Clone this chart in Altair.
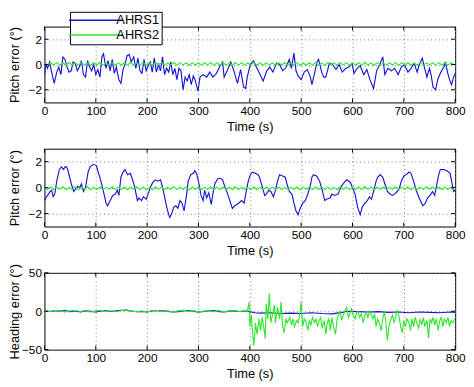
import altair as alt
import pandas as pd

X_TICKS = [0, 100, 200, 300, 400, 500, 600, 700, 800]
PITCH_TICKS = [-2, 0, 2]
HEAD_TICKS = [-50, 0, 50]
SERIES = ["AHRS1", "AHRS2"]
COLORS = ["#1515d5", "#2ee82e"]

# ---- panel 1 : pitch error ----
P1_T = [0, 3, 6, 10, 14, 19, 24, 28, 32, 36,
        40, 44, 48, 52, 56, 60, 64, 68, 72, 76,
        80, 84, 88, 92, 96, 100, 104, 108, 112, 115,
        120, 124, 128, 132, 136, 140, 145, 149, 153, 157,
        161, 165, 169, 174, 178, 182, 186, 190, 194, 198,
        202, 206, 210, 214, 218, 222, 226, 230, 234, 238,
        242, 246, 250, 254, 258, 262, 266, 270, 274, 278,
        282, 286, 290, 294, 299, 303, 309, 316, 322, 328,
        335, 341, 347, 350, 357, 363, 369, 376, 382, 388,
        392, 395, 401, 407, 414, 420, 426, 433, 439, 445,
        452, 458, 464, 471, 477, 481, 486, 490, 494, 500,
        506, 512, 518, 521, 526, 531, 534, 540, 544, 548,
        555, 561, 568, 574, 580, 587, 593, 599, 603, 609,
        615, 622, 628, 634, 641, 647, 654, 659, 663, 669,
        676, 682, 689, 695, 701, 708, 714, 720, 726, 730,
        736, 740, 745, 750, 753, 757, 762, 766, 771, 775,
        778, 781, 785, 789, 793, 797, 800]
P1_AHRS1 = [-0.8, 0.0, -0.3, 0.2, -0.6, -1.5, -0.6, -0.2, -0.8, 0.6,
            0.4, -0.2, -0.6, -0.5, 0.2, 0.1, -0.5, -0.2, 0.3, -0.8,
            -1.0, 0.3, -0.2, -0.5, 0.0, -0.8, -0.4, -1.0, 0.6, 0.85,
            -0.3, 0.3, -0.5, 0.4, -0.7, -0.2, -1.2, -1.5, -0.4, 0.0,
            0.7, 0.8, 0.2, 0.6, -0.3, 0.5, -0.5, -0.7, 0.4, -0.5,
            -0.1, 0.2, -0.6, 0.5, -0.6, 0.0, -0.5, 0.6, -0.8, -0.3,
            -0.6, 0.2, -0.8, -0.3, -1.2, -0.3, -0.5, -2.0, -1.0, -1.3,
            -0.8, -1.6, -0.9, -1.3, -2.1, -1.0, -0.8, -1.0, -0.6, -1.0,
            -0.7, -0.2, 0.2, -1.0, -0.4, 0.2, -0.5, -1.5, -0.4, -1.8,
            -1.9, -1.0, 0.0, 0.3, -0.3, -0.8, -1.3, -0.5, -0.2, -0.6,
            0.1, 0.0, -0.5, -0.2, 0.4, -0.3, 0.9, -0.5, -0.9, -1.2,
            -0.6, -0.4, -1.0, -1.6, -0.7, 0.2, 0.4, -0.6, -1.0, -1.0,
            0.1, 0.0, -0.4, 0.0, -0.6, -0.3, -0.2, 0.1, -0.7, -0.3,
            -0.1, -0.8, -0.4, -1.2, -1.9, -0.5, 0.1, 0.6, -0.8, -0.3,
            -0.5, -0.3, -0.8, -0.2, 0.0, -0.6, -0.3, 0.1, -0.6, 0.0,
            0.5, -0.2, -1.0, -0.3, -0.8, -1.8, -2.0, -1.2, -0.7, -0.4,
            -0.2, 0.2, -0.6, -1.2, -1.6, -1.0, -0.7]

G_T = list(range(0, 801, 6))
P1_AHRS2 = [0.10, -0.04, 0.14, -0.05, 0.15, -0.03, 0.12, -0.06, 0.16, -0.04,
            0.13, -0.05, 0.15, -0.02, 0.11, -0.06, 0.14, -0.04, 0.16, -0.05,
            0.12, -0.03, 0.15, -0.06, 0.13, -0.04, 0.14, -0.05, 0.16, -0.03,
            0.11, -0.05, 0.15, -0.04, 0.13, -0.06, 0.14, -0.02, 0.15, -0.05,
            0.12, -0.04, 0.16, -0.05, 0.13, -0.03, 0.14, -0.06, 0.15, -0.04,
            0.12, -0.05, 0.14, -0.03, 0.16, -0.05, 0.13, -0.04, 0.15, -0.06,
            0.11, -0.04, 0.14, -0.05, 0.15, -0.03, 0.12, -0.05, 0.16, -0.04,
            0.13, -0.06, 0.15, -0.03, 0.12, -0.05, 0.14, -0.04, 0.16, -0.05,
            0.13, -0.03, 0.15, -0.06, 0.12, -0.04, 0.14, -0.05, 0.15, -0.03,
            0.11, -0.05, 0.16, -0.04, 0.13, -0.06, 0.14, -0.03, 0.15, -0.05,
            0.12, -0.04, 0.14, -0.05, 0.16, -0.03, 0.13, -0.06, 0.15, -0.04,
            0.12, -0.05, 0.14, -0.03, 0.15, -0.05, 0.13, -0.04, 0.16, -0.06,
            0.12, -0.04, 0.15, -0.05, 0.13, -0.03, 0.14, -0.05, 0.15, -0.04,
            0.12, -0.05, 0.14, -0.04]

# ---- panel 2 : pitch error ----
P2_T = [0, 4, 8, 11, 14, 17, 20, 24, 29, 33,
        37, 40, 43, 46, 49, 53, 57, 61, 65, 69,
        72, 76, 80, 85, 89, 95, 101, 104, 110, 115,
        120, 123, 128, 133, 138, 142, 145, 149, 153, 157,
        162, 167, 171, 176, 181, 184, 189, 193, 198, 202,
        206, 211, 216, 221, 226, 229, 233, 237, 240, 244,
        248, 252, 256, 260, 264, 268, 272, 277, 280, 285,
        290, 293, 297, 301, 305, 309, 312, 316, 320, 325,
        328, 332, 338, 343, 347, 352, 357, 361, 366, 371,
        378, 384, 389, 392, 397, 401, 405, 411, 416, 419,
        424, 429, 432, 437, 441, 446, 450, 454, 458, 464,
        469, 473, 477, 482, 486, 490, 494, 498, 503, 508,
        513, 518, 521, 524, 530, 536, 541, 546, 549, 556,
        560, 565, 572, 578, 584, 589, 596, 600, 605, 610,
        615, 619, 624, 629, 633, 637, 641, 646, 649, 654,
        659, 663, 668, 673, 678, 682, 687, 691, 695, 700,
        705, 710, 714, 719, 724, 730, 737, 742, 746, 751,
        756, 760, 764, 768, 771, 778, 784, 790, 793, 797,
        800]
P2_AHRS1 = [-1.0, -0.7, -0.5, -0.3, -0.2, -0.7, -0.5, 0.5, 1.4, 1.6,
            1.4, 1.6, 1.6, 1.3, 0.8, 0.2, -0.3, -0.1, 0.1, 0.0,
            0.3, -0.3, 0.0, 1.2, 1.6, 1.8, 1.7, 1.3, 0.5, -0.3,
            -1.2, -1.4, -1.0, -0.6, -0.5, -0.2, -0.6, 0.8, 1.2, 1.4,
            1.0, 1.1, 0.7, 0.0, -1.0, -0.8, -1.0, -0.7, -0.9, -0.5,
            0.0, 0.4, 0.6, 0.5, 0.6, 0.2, -0.5, -1.3, -1.8, -2.3,
            -2.0, -1.5, -1.4, -1.6, -1.0, -1.2, -1.8, -0.5, 0.5, 1.0,
            1.1, 1.3, 1.0, 0.3, -0.6, -1.0, -0.2, -0.8, -0.4, -1.3,
            -0.5, 0.3, 0.7, 0.7, 0.6, 0.0, -0.5, -1.0, -1.6, -1.4,
            -1.2, -1.0, -1.2, -0.5, 0.5, 1.0, 1.2, 1.1, 1.0, 0.8,
            0.1, -0.6, -0.5, -0.2, -0.3, -0.7, -0.2, 0.5, 1.0, 0.9,
            0.8, 0.2, -0.3, -0.5, -1.2, -1.8, -2.1, -1.6, -1.2, -1.0,
            -0.5, 0.2, 0.8, 1.0, 0.9, 0.5, -0.2, -1.0, -0.9, -0.8,
            -0.5, -0.6, -0.5, 0.1, 0.4, 0.6, 0.4, 0.0, -0.5, -1.5,
            -2.1, -1.5, -1.2, -1.0, -0.7, -0.9, -0.3, 0.5, 0.8, 1.0,
            0.8, 0.3, -0.3, -0.5, -0.6, -0.5, -0.3, -0.1, 0.5, 0.9,
            1.0, 1.2, 1.1, 0.5, -0.2, -0.8, -1.4, -1.2, -0.8, -0.6,
            -0.3, -0.6, 0.2, 1.0, 1.4, 1.4, 1.3, 1.1, 0.5, -0.3,
            -0.2]
P2_AHRS2 = [0.03, -0.14, 0.05, -0.15, 0.04, -0.13, 0.06, -0.16, 0.02, -0.14,
            0.05, -0.15, 0.03, -0.12, 0.06, -0.16, 0.04, -0.14, 0.05, -0.15,
            0.02, -0.13, 0.06, -0.15, 0.04, -0.14, 0.05, -0.16, 0.03, -0.13,
            0.06, -0.15, 0.04, -0.14, 0.02, -0.16, 0.05, -0.12, 0.04, -0.15,
            0.03, -0.14, 0.06, -0.15, 0.04, -0.13, 0.05, -0.16, 0.03, -0.14,
            0.05, -0.15, 0.02, -0.13, 0.06, -0.15, 0.04, -0.14, 0.05, -0.16,
            0.03, -0.14, 0.06, -0.15, 0.04, -0.13, 0.02, -0.15, 0.05, -0.14,
            0.04, -0.16, 0.06, -0.13, 0.03, -0.15, 0.05, -0.14, 0.04, -0.15,
            0.02, -0.13, 0.05, -0.16, 0.04, -0.14, 0.06, -0.15, 0.03, -0.13,
            0.05, -0.15, 0.04, -0.14, 0.02, -0.16, 0.06, -0.13, 0.04, -0.15,
            0.03, -0.14, 0.05, -0.15, 0.06, -0.13, 0.04, -0.16, 0.03, -0.14,
            0.05, -0.15, 0.02, -0.13, 0.06, -0.15, 0.04, -0.14, 0.05, -0.16,
            0.03, -0.14, 0.04, -0.15, 0.06, -0.13, 0.05, -0.15, 0.03, -0.14,
            0.04, -0.15, 0.05, -0.14]

# ---- panel 3 : heading error ----
P3_T1 = [0, 10, 20, 30, 40, 50, 60, 70, 80, 90,
         100, 110, 120, 130, 140, 150, 160, 170, 180, 190,
         200, 210, 220, 230, 240, 250, 260, 270, 280, 290,
         300, 310, 320, 330, 340, 350, 360, 370, 380, 390,
         400, 410, 420, 440, 460, 480, 500, 520, 540, 560,
         580, 590, 610, 630, 650, 670, 690, 710, 730, 750,
         770, 790, 800]
P3_AHRS1 = [0.5, -0.3, 0.8, 0.2, 1.0, -0.5, 0.3, -0.8, 0.5, -0.2,
            -1.0, 0.3, 0.8, -0.4, 0.6, 1.2, 1.5, 0.2, -0.6, -0.3,
            -1.0, 0.4, 0.9, 0.5, -0.2, -0.8, -0.5, 0.3, 1.0, 0.2,
            -1.2, -0.3, 0.4, 0.9, -0.5, -0.8, 0.2, 0.5, -0.4, 0.1,
            -0.5, -2.0, -2.5, -2.0, -3.0, -2.5, -3.0, -2.0, -3.0, -3.5,
            -1.5, 0.0, -0.5, -1.0, -0.5, -1.5, -1.0, -2.0, -1.0, -1.5,
            -2.0, -1.0, -1.5]
P3_T2 = [0, 10, 20, 30, 40, 50, 60, 70, 80, 90,
         100, 110, 120, 130, 140, 150, 160, 170, 180, 190,
         200, 210, 220, 230, 240, 250, 260, 270, 280, 290,
         300, 310, 320, 330, 340, 350, 360, 370, 380, 390,
         395, 399, 400, 403, 405, 408, 411, 414, 418, 421,
         424, 427, 430, 432, 435, 438, 441, 444, 448, 450,
         454, 458, 461, 464, 467, 470, 473, 478, 481, 484,
         487, 491, 494, 497, 500, 503, 506, 510, 513, 516,
         519, 522, 526, 529, 532, 535, 538, 541, 545, 548,
         551, 554, 557, 560, 563, 567, 570, 573, 576, 579,
         582, 586, 589, 592, 595, 598, 601, 605, 608, 611,
         614, 617, 621, 624, 627, 630, 633, 637, 640, 643,
         646, 649, 652, 656, 659, 662, 665, 668, 671, 675,
         678, 681, 684, 687, 690, 694, 697, 700, 703, 706,
         710, 713, 716, 719, 722, 725, 729, 732, 735, 738,
         741, 745, 748, 751, 754, 757, 760, 763, 767, 770,
         773, 776, 779, 783, 786, 789, 792, 795, 800]
P3_AHRS2 = [0.8, -0.5, 1.2, 0.3, -0.8, 0.5, 1.0, -0.3, 0.6, -1.0,
            0.4, 1.3, -0.2, 0.7, -0.6, 0.9, 1.5, 0.2, -0.7, 0.4,
            -1.1, 0.6, 1.0, -0.4, 0.3, -0.9, 0.5, 1.1, -0.2, 0.8,
            -1.2, 0.2, 0.7, -0.5, 1.0, -0.8, 0.4, 0.6, -0.3, 0.5,
            0, 12, -20, -5, -25, -45, -15, -30, -10, -25,
            -8, -20, -35, 10, -10, 23, -15, -5, 8, -15,
            5, -10, 12, -20, -28, -10, -15, -8, -18, -10,
            -20, -12, -15, -5, 12, -20, -10, -15, -25, -12,
            -18, -8, -15, -10, -20, -12, -8, -22, -12, -30,
            -15, -10, -25, -8, -20, -30, -10, -5, 0, -12,
            -5, 2, 5, -8, -3, 3, -5, -10, -2, 0,
            -8, -3, -15, -5, -2, -8, 0, -5, -10, -3,
            -20, -10, -15, -25, -10, 0, -15, -38, -20, -10,
            -5, -15, -8, 2, -5, -20, -28, -12, -20, -10,
            -15, -25, -10, -20, -8, -15, -22, -10, -18, -8,
            -20, -12, -35, -10, -15, -8, -18, -10, -25, -12,
            -8, -20, -10, -15, -8, -20, -12, -15, -10]


def long_df(t1, v1, t2, v2):
    a = pd.DataFrame({"t": t1, "v": v1, "series": SERIES[0]})
    b = pd.DataFrame({"t": t2, "v": v2, "series": SERIES[1]})
    return pd.concat([a, b], ignore_index=True)


W = 417
FONT = "Liberation Sans"


def panel(df, yticks, ydom, ytitle, h, with_legend):
    xsc = alt.Scale(domain=[0, 800], nice=False, zero=False)
    ysc = alt.Scale(domain=ydom, nice=False, zero=False)
    xax = alt.Axis(values=X_TICKS, title="Time (s)", grid=True, labelFlush=False,
                   labelPadding=3, titlePadding=4)
    yax = alt.Axis(values=yticks, title=ytitle, grid=True, labelFlush=False,
                   labelPadding=3, titleX=-30, titleBaseline="middle")
    if with_legend:
        leg = alt.Legend(orient="none", legendX=26, legendY=-15, title=None,
                         symbolType="M-5.5,0H5.5", symbolSize=100, symbolStrokeWidth=1.5,
                         symbolOffset=18, labelOffset=14,
                         labelFont=FONT, labelFontSize=13, labelColor="black",
                         fillColor="white", strokeColor="black", padding=2,
                         rowPadding=1)
    else:
        leg = None
    color = alt.Color("series:N", scale=alt.Scale(domain=SERIES, range=COLORS),
                      legend=leg)
    lines = alt.Chart(df).mark_line(strokeWidth=1.15, clip=True).encode(
        x=alt.X("t:Q", scale=xsc, axis=xax),
        y=alt.Y("v:Q", scale=ysc, axis=yax),
        color=color,
    )
    xt = pd.DataFrame({"t": X_TICKS})
    yt = pd.DataFrame({"v": yticks})
    tick_top = alt.Chart(xt).mark_rule(color="black", strokeWidth=1).encode(
        x=alt.X("t:Q", scale=xsc, axis=xax), y=alt.value(0), y2=alt.value(4))
    tick_bot = alt.Chart(xt).mark_rule(color="black", strokeWidth=1).encode(
        x=alt.X("t:Q", scale=xsc, axis=xax), y=alt.value(h - 4), y2=alt.value(h))
    tick_left = alt.Chart(yt).mark_rule(color="black", strokeWidth=1).encode(
        y=alt.Y("v:Q", scale=ysc, axis=yax), x=alt.value(0), x2=alt.value(4))
    tick_right = alt.Chart(yt).mark_rule(color="black", strokeWidth=1).encode(
        y=alt.Y("v:Q", scale=ysc, axis=yax), x=alt.value(W - 4), x2=alt.value(W))
    return alt.layer(lines, tick_top, tick_bot, tick_left, tick_right).properties(
        width=W, height=h)


p1 = panel(long_df(P1_T, P1_AHRS1, G_T, P1_AHRS2), PITCH_TICKS, [-3, 3],
           "Pitch error (°)", 77, True)
p2 = panel(long_df(P2_T, P2_AHRS1, G_T, P2_AHRS2), PITCH_TICKS, [-3, 3],
           "Pitch error (°)", 79, False)
p3 = panel(long_df(P3_T1, P3_AHRS1, P3_T2, P3_AHRS2), HEAD_TICKS, [-50, 50],
           "Heading error (°)", 78, False)

chart = alt.vconcat(p1, p2, p3, spacing=47, bounds="flush").resolve_scale(
    color="independent", x="independent", y="independent"
).resolve_legend(color="independent").properties(
    padding={"left": 0, "top": 0, "right": 0, "bottom": 0},
    background="white",
).configure_view(
    stroke="black", strokeWidth=1
).configure_axis(
    labelFont=FONT, titleFont=FONT, labelFontSize=12, titleFontSize=13,
    labelColor="black", titleColor="black", titleFontWeight="normal",
    gridColor="#7a7a7a", gridDash=[1, 3], gridOpacity=1, gridWidth=1,
    domain=False, ticks=False,
)

chart.save("out.html", embed_options={"renderer": "svg", "actions": False})
